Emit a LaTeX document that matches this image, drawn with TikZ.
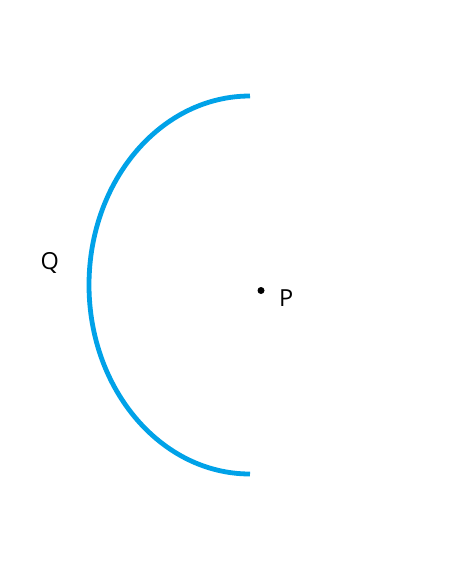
\documentclass[tikz,border=0pt]{standalone}
\usepackage{fontspec}
\setmainfont{Open Sans}
\definecolor{arcblue}{RGB}{0,162,232}
\begin{document}
\begin{tikzpicture}[x=1pt,y=-1pt,
  lbl/.style={inner sep=0pt,anchor=base west,font=\fontsize{23.5}{28}\selectfont},
  arcline/.style={draw=arcblue,line width=4.8pt}]
\useasboundingbox (0,0) rectangle (448,584);
\coordinate (top) at (250,96);
\draw[arcline] (top) arc[start angle=90,end angle=270,x radius=161,y radius=-189];
\node[circle,fill=black,inner sep=0pt,minimum size=7pt] (pdot) at (261,290.5) {};
\node[lbl] (P) at (279,306) {P};
\node[lbl] (Q) at (40.5,269) {Q};
\end{tikzpicture}
\end{document}
